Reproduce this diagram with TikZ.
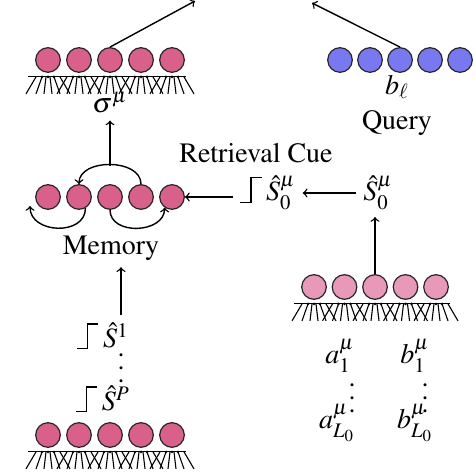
\documentclass[tikz,border=0pt]{standalone}
\usepackage[T1]{fontenc}
\usepackage{amsmath}
\usepackage{mathptmx}
\usepackage{xcolor}
\usepackage{tikz}
\usetikzlibrary{arrows,positioning}
\definecolor{mempink}{HTML}{D8608A}
\definecolor{cuepink}{HTML}{E898B8}
\definecolor{qblue}{HTML}{7878F0}
\tikzset{
	>=to, % open arrow heads
	every node/.style={font=\fontsize{14}{16}\selectfont},
	neuron/.style={circle, draw=black!85, line width=0.6pt, minimum size=12.3pt, inner sep=0pt},
	mem/.style={neuron, fill=mempink},
	qry/.style={neuron, fill=qblue},
	inp/.style={neuron, fill=cuepink},
	dend/.style={line width=0.55pt},
	link/.style={->, line width=0.7pt},
}
% step function in front of a pattern
\newcommand{\stepfn}{\rule[-1pt]{5pt}{0.6pt}\rule[-1pt]{0.6pt}{13pt}\rule[11.4pt]{5pt}{0.6pt}\,}
\newcommand{\vdotsw}{\vbox{\baselineskip6.5pt\lineskiplimit0pt\hbox{.}\hbox{.}\hbox{.}}}
% dendrites under a row of neurons
\newcommand{\dendrow}[1]{%
	\draw[dend] ([xshift=-10pt,yshift=-2pt]#11.south) -- ([xshift=7pt,yshift=-2pt]#15.south);
	\foreach \i in {1,...,5}{
		\foreach \a/\b in {-6/-11,-3/-6,-1/-2,1/2,3/6,6/11}
			\draw[dend] ([xshift=\a pt,yshift=-2pt]#1\i.south) -- ([xshift=\b pt,yshift=-10.5pt]#1\i.south);
		\foreach \a in {-3,0,3}
			\fill ([xshift=\a pt,yshift=-2pt]#1\i.south) circle (0.7pt);
	}
}

\begin{document}
\begin{tikzpicture}[x=0.5pt, y=-0.5pt]
	\useasboundingbox (0,0) rectangle (474,474);

	% neuron rows
	\foreach \i/\x in {1/48,2/79,3/110,4/141,5/172} {
		\node[mem] (s\i) at (\x,60) {};
		\node[mem] (m\i) at (\x,197) {};
		\node[mem] (p\i) at (\x,435) {};
	}
	\foreach \i/\x in {1/340,2/370,3/400,4/430,5/460}
		\node[qry] (q\i) at (\x,60) {};
	\foreach \i/\x in {1/314,2/344.5,3/375,4/405.5,5/436}
		\node[inp] (c\i) at (\x,287) {};
	\dendrow{s}
	\dendrow{p}
	\dendrow{c}

	% labels
	\node (sig) at (110,103) {$\sigma^{\mu}$};
	\node (bl) at (397,87) {$b_{\ell}$};
	\node (query) at (397,123) {Query};
	\node (cue) at (256,153) {Retrieval Cue};
	\node (cueL) at (268,193) {\stepfn$\hat{S}^{\mu}_{0}$};
	\node (cueR) at (378,193) {$\hat{S}^{\mu}_{0}$};
	\node (mem) at (111,248) {Memory};
	\node (S1) at (103,336) {\stepfn$\hat{S}^{1}$};
	\node (sdots) at (121,368) {\vdotsw};
	\node (SP) at (103,399) {\stepfn$\hat{S}^{P}$};
	\node (a1) at (340,356) {$a^{\mu}_{1}$};
	\node (b1) at (415,356) {$b^{\mu}_{1}$};
	\node (adots) at (352,398) {\vdotsw};
	\node (bdots) at (425,398) {\vdotsw};
	\node (aL) at (337,423) {$a^{\mu}_{L_0}$};
	\node (bL) at (415,423) {$b^{\mu}_{L_0}$};

	\coordinate (topL) at (195,1);
	\coordinate (topR) at (312,3);
	\coordinate (mtop) at (110,166);
	\coordinate (mleft) at (30,206);

	% connectors
	\draw[link] (s3.north) -- (topL);
	\draw[link] (q3.north) -- (topR);
	\draw[link] (mtop) -- (sig);
	\draw[link] (m4.north) .. controls +(0,-26) and +(0,-26) .. (m2.north);
	\draw[link] (m2.-60) .. controls +(0,28) and +(0,28) .. (mleft);
	\draw[link] (m3.south) .. controls +(0,26) and +(0,26) .. (m5.-125);
	\draw[link] (cueL.west |- m5.east) -- (m5.east);
	\draw[link] (cueR.west) -- (cueL.east |- cueR.west);
	\draw[link] (c3.north) -- (c3.north |- cueR.south);
	\draw[link] (S1.north -| sdots) -- (sdots |- mem.south);
\end{tikzpicture}
\end{document}
